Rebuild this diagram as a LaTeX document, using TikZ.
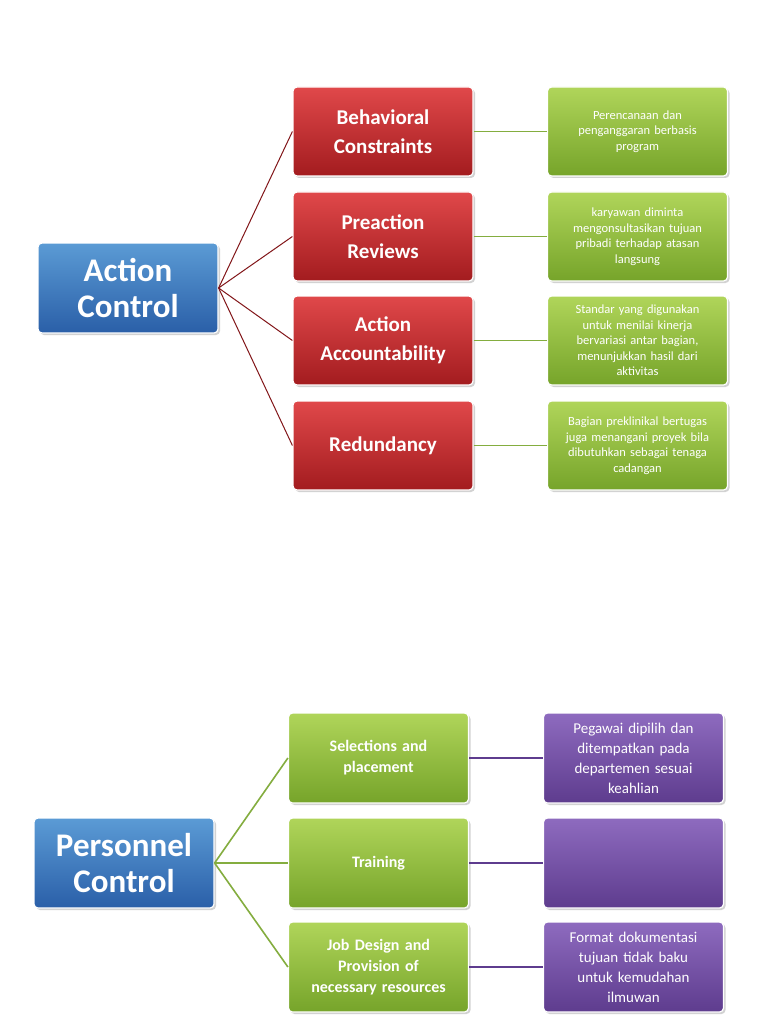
\documentclass[tikz,border=0pt]{standalone}
\usepackage{fontspec}
\setmainfont{Carlito}
\usetikzlibrary{shadows}
\definecolor{bluetop}{HTML}{5B9BD5}\definecolor{bluebot}{HTML}{2A5FA8}
\definecolor{redtop}{HTML}{E0484A}\definecolor{redbot}{HTML}{A31C1F}
\definecolor{grtop}{HTML}{B0D55A}\definecolor{grbot}{HTML}{76A42A}
\definecolor{putop}{HTML}{8E6BBF}\definecolor{pubot}{HTML}{5E3C8E}
\begin{document}
\begin{tikzpicture}[x=1pt,y=-1pt,
 box/.style={rounded corners=4pt,draw=white,line width=1.2pt,minimum width=180pt,minimum height=90pt,align=center,text=white,font=\bfseries,drop shadow={opacity=0.35,shadow xshift=2pt,shadow yshift=-2pt}},
 blue/.style={box,top color=bluetop,bottom color=bluebot,font=\bfseries\fontsize{33}{36}\selectfont},
 red/.style={box,top color=redtop,bottom color=redbot,font=\bfseries\fontsize{21}{29}\selectfont,minimum height=89pt},
 grs/.style={box,top color=grtop,bottom color=grbot,font=\fontsize{12.5}{15.5}\selectfont,text width=170pt,minimum height=89pt},
 grb/.style={box,top color=grtop,bottom color=grbot,font=\bfseries\fontsize{16}{21}\selectfont,text width=170pt},
 pur/.style={box,top color=putop,bottom color=pubot,font=\fontsize{15}{20}\selectfont,text width=170pt},
 lr/.style={draw=redbot!80!black,line width=1pt},
 lg/.style={draw=grbot!90,line width=1.6pt},
 lb/.style={draw=pubot,line width=1.6pt}]
\useasboundingbox (0,0) rectangle (768,1024);
\fill[white] (0,0) rectangle (768,1024);
\node[blue] (ac) at (128,288) {Action\\Control};
\node[red] (r1) at (383,131.5) {Behavioral\\Constraints};
\node[red] (r2) at (383,236.5) {Preaction\\Reviews};
\node[red] (r3) at (383,340.5) {Action\\Accountability};
\node[red] (r4) at (383,445.5) {Redundancy};
\node[grs] (g1) at (637.5,131.5) {Perencanaan dan\\penganggaran berbasis\\program};
\node[grs] (g2) at (637.5,236.5) {karyawan diminta\\mengonsultasikan tujuan\\pribadi terhadap atasan\\langsung};
\node[grs] (g3) at (637.5,340.5) {Standar yang digunakan\\untuk menilai kinerja\\bervariasi antar bagian,\\menunjukkan hasil dari\\aktivitas};
\node[grs] (g4) at (637.5,445.5) {Bagian preklinikal bertugas\\juga menangani proyek bila\\dibutuhkan sebagai tenaga\\cadangan};
\foreach \i in {1,...,4}{\draw[lr] (ac.east) -- (r\i.west); \draw[lg] (r\i.east) -- (g\i.west);}
\node[blue] (pc) at (124,863) {Personnel\\Control};
\node[grb] (p1) at (378.5,758) {Selections and\\placement};
\node[grb] (p2) at (378.5,863) {Training};
\node[grb] (p3) at (378.5,967) {Job Design and\\Provision of\\necessary resources};
\node[pur] (q1) at (633.5,758) {Pegawai dipilih dan\\ditempatkan pada\\departemen sesuai\\keahlian};
\node[pur] (q2) at (633.5,863) {};
\node[pur] (q3) at (633.5,967) {Format dokumentasi\\tujuan tidak baku\\untuk kemudahan\\ilmuwan};
\foreach \i in {1,2,3}{\draw[lg] (pc.east) -- (p\i.west); \draw[lb] (p\i.east) -- (q\i.west);}
\end{tikzpicture}
\end{document}
